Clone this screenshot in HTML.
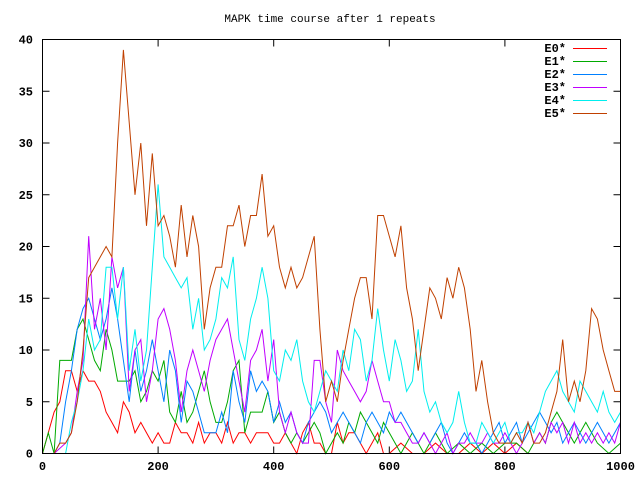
<!DOCTYPE html>
<html><head><meta charset="utf-8"><style>
html,body{margin:0;padding:0;background:#fff;}
svg{display:block;}
text{font-family:"Liberation Mono","DejaVu Sans Mono",monospace;font-size:12px;font-weight:bold;fill:#000;}
</style></head><body>
<svg id="s" width="640" height="480" xmlns="http://www.w3.org/2000/svg">
<rect width="640" height="480" fill="#fff"/>
<text x="330" y="22" text-anchor="middle" style="font-weight:normal;font-size:11px">MAPK time course after 1 repeats</text>
<g id="ax"></g>
<g id="lines" fill="none" stroke-width="1"></g>
<rect x="42.5" y="39.5" width="578" height="414" fill="none" stroke="#000"/>
<g text-anchor="end">
<text x="566" y="52">E0*</text><text x="566" y="65">E1*</text><text x="566" y="78">E2*</text>
<text x="566" y="91">E3*</text><text x="566" y="104">E4*</text><text x="566" y="117">E5*</text>
</g>
<line x1="573" y1="48.5" x2="607" y2="48.5" stroke="#ff0000"/>
<line x1="573" y1="61.5" x2="607" y2="61.5" stroke="#00aa00"/>
<line x1="573" y1="74.5" x2="607" y2="74.5" stroke="#0080ff"/>
<line x1="573" y1="87.5" x2="607" y2="87.5" stroke="#c000ff"/>
<line x1="573" y1="100.5" x2="607" y2="100.5" stroke="#00eeee"/>
<line x1="573" y1="113.5" x2="607" y2="113.5" stroke="#c04000"/>
</svg>
<script>
var NS="http://www.w3.org/2000/svg";
function X(v){return 42.5+v*0.578;}function Y(v){return 453.5-v*10.35;}
var ax=document.getElementById("ax");
function el(t,a,p){var e=document.createElementNS(NS,t);for(var k in a)e.setAttribute(k,a[k]);(p||ax).appendChild(e);return e;}
for(var i=0;i<=8;i++){var y=Y(i*5);el("line",{x1:42.5,x2:49.5,y1:y,y2:y,stroke:"#000"});el("line",{x1:613.5,x2:620.5,y1:y,y2:y,stroke:"#000"});
var t=el("text",{x:33,y:y+4,"text-anchor":"end"});t.textContent=i*5;}
for(var i=0;i<=5;i++){var x=X(i*200);el("line",{x1:x,x2:x,y1:446.5,y2:453.5,stroke:"#000"});el("line",{x1:x,x2:x,y1:39.5,y2:46.5,stroke:"#000"});
var t=el("text",{x:x,y:470,"text-anchor":"middle"});t.textContent=i*200;}
var D={
"#ff0000":"0:0,10:2,20:4,30:5,40:8,50:8,60:6,70:8,80:7,90:7,100:6,110:4,120:3,130:2,140:5,150:4,160:2,170:3,180:2,190:1,200:2,210:1,220:1,230:3,240:2,250:2,260:1,270:3,280:1,290:2,300:2,310:1,320:3,330:1,340:2,350:2,360:1,370:2,380:2,390:2,400:1,410:1,420:2,430:1,440:0,450:2,460:3,470:1,480:1,490:0,500:0,510:3,520:1,530:2,540:2,550:1,560:0,570:1,580:2,590:0,600:0,620:1,640:0,660:0,680:1,700:0,720:0,740:1,760:0,780:1,800:0,820:1,840:0,860:0,880:0,900:0,1000:0",
"#00aa00":"0:0,10:2,20:0,30:9,40:9,50:9,60:12,70:13,80:11,90:9,100:8,110:12,120:10,130:7,140:7,150:7,160:8,170:5,180:6,190:8,200:7,210:9,220:4,230:3,240:6,250:3,260:4,270:6,280:8,290:5,300:3,310:3,320:5,330:8,340:9,350:2,360:4,370:4,380:4,390:6,400:3,410:4,420:2,430:1,440:2,450:1,460:2,470:3,480:2,490:0,500:1,510:2,520:1,530:3,540:2,550:4,560:3,570:2,580:1,590:3,600:2,610:1,620:0,630:1,640:2,650:1,660:0,670:1,680:2,690:1,700:0,720:1,740:0,760:1,780:0,800:1,820:1,840:0,860:2,870:1,880:3,890:4,900:3,910:2,920:1,930:2,940:3,950:2,960:1,980:0,1000:1",
"#0080ff":"0:0,20:0,30:1,40:5,50:8,60:12,70:14,80:15,90:13,100:11,110:13,120:16,130:13,140:9,150:5,160:10,170:6,180:8,190:11,200:8,210:5,220:10,230:8,240:3,250:7,260:6,270:4,280:2,290:2,300:2,310:4,320:2,330:8,340:5,350:3,360:8,370:6,380:7,390:6,400:3,410:5,420:3,430:4,440:2,450:1,460:3,470:4,480:5,490:4,500:2,510:3,520:4,530:3,540:2,550:1,560:3,570:4,580:3,590:2,600:4,610:3,620:4,630:3,640:2,650:1,660:2,670:1,680:2,690:3,700:1,710:0,720:1,730:2,740:1,750:1,760:0,770:1,780:2,790:3,800:1,810:2,820:3,830:1,840:2,850:3,860:4,870:3,880:2,890:3,900:1,910:2,920:3,930:2,940:1,950:2,960:3,970:2,980:1,990:2,1000:3",
"#c000ff":"0:0,20:0,40:1,50:2,60:6,70:9,80:21,90:12,100:15,110:10,120:19,130:16,140:18,150:6,160:10,170:11,180:5,190:8,200:13,210:14,220:12,230:9,240:4,250:8,260:10,270:8,280:6,290:9,300:11,310:12,320:13,330:10,340:7,350:4,360:9,370:10,380:12,390:7,400:11,410:4,420:2,430:4,440:2,450:1,460:1,470:9,480:9,490:5,500:3,510:10,520:8,530:7,540:6,550:5,560:6,570:9,580:7,590:5,600:5,610:3,620:3,630:2,640:1,650:1,660:2,670:1,680:0,690:1,700:2,710:0,720:1,730:1,740:2,750:1,760:1,770:2,780:1,790:1,800:2,810:1,820:0,830:1,840:3,850:1,860:2,870:1,880:3,890:2,900:3,910:1,920:3,930:1,940:2,950:1,960:2,970:1,980:2,990:1,1000:3",
"#00eeee":"0:0,20:0,40:0,50:3,60:5,70:8,80:13,90:10,100:11,110:18,120:18,130:13,140:18,150:8,160:12,170:7,180:10,190:18,200:26,210:19,220:18,230:17,240:16,250:17,260:12,270:15,280:10,290:11,300:13,310:17,320:16,330:19,340:11,350:9,360:13,370:15,380:18,390:15,400:8,410:7,420:10,430:9,440:11,450:7,460:5,470:4,480:6,490:8,500:7,510:6,520:10,530:8,540:12,550:11,560:7,570:9,580:14,590:10,600:7,610:11,620:9,630:6,640:7,650:12,660:6,670:4,680:5,690:3,700:2,710:3,720:6,730:3,740:1,750:1,760:3,770:2,780:1,790:2,800:3,810:1,820:2,830:2,840:3,850:2,860:4,870:6,880:7,890:8,900:6,910:5,920:4,930:7,940:6,950:5,960:4,970:6,980:4,990:3,1000:4",
"#c04000":"0:0,20:0,30:1,40:1,50:2,60:5,70:10,80:17,90:18,100:19,110:20,120:19,130:30,140:39,150:32,160:25,170:30,180:22,190:29,200:22,210:23,220:21,230:18,240:24,250:19,260:23,270:20,280:12,290:16,300:18,310:18,320:22,330:22,340:24,350:20,360:23,370:23,380:27,390:21,400:22,410:18,420:16,430:18,440:16,450:17,460:19,470:21,480:12,490:5,500:7,510:5,520:9,530:12,540:15,550:17,560:17,570:13,580:23,590:23,600:21,610:19,620:22,630:16,640:13,650:8,660:12,670:16,680:15,690:13,700:17,710:15,720:18,730:16,740:12,750:6,760:9,770:5,780:2,790:1,800:1,810:1,820:2,830:1,840:3,850:1,860:1,870:2,880:4,890:6,900:11,910:5,920:7,930:5,940:8,950:14,960:13,970:10,980:8,990:6,1000:6"
};
var g=document.getElementById("lines");
for(var c in D){var pts=D[c].split(",").map(function(p){var a=p.split(":");return X(+a[0]).toFixed(1)+","+Y(+a[1]).toFixed(1);}).join(" ");
el("polyline",{points:pts,stroke:c},g);}
</script>
</body></html>
